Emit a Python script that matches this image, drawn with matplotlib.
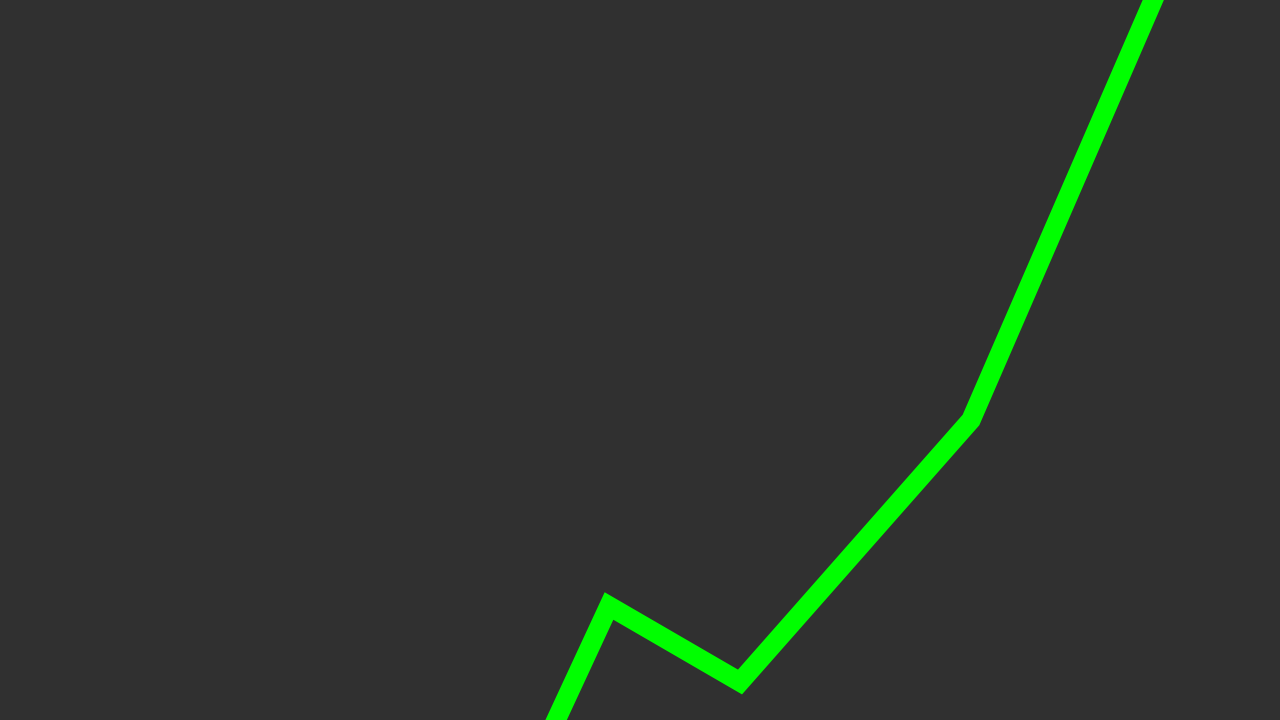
import matplotlib
matplotlib.use("Agg")
import matplotlib.pyplot as plt

# line vertices (pixel-like units, y up)
xs = [519, 609, 740, 971, 1188]
ys = [-80, 114, 38, 300, 800]

bg = "#303030"

fig = plt.figure(figsize=(12.8, 7.2), dpi=100)
fig.patch.set_facecolor(bg)
ax = fig.add_axes([0, 0, 1, 1])
ax.set_facecolor(bg)
ax.plot(xs, ys, color="#00ff00", linewidth=14, solid_joinstyle="miter")
ax.set_xlim(0, 1280)
ax.set_ylim(0, 720)
ax.axis("off")

fig.savefig("out.png", dpi=100, facecolor=bg)
